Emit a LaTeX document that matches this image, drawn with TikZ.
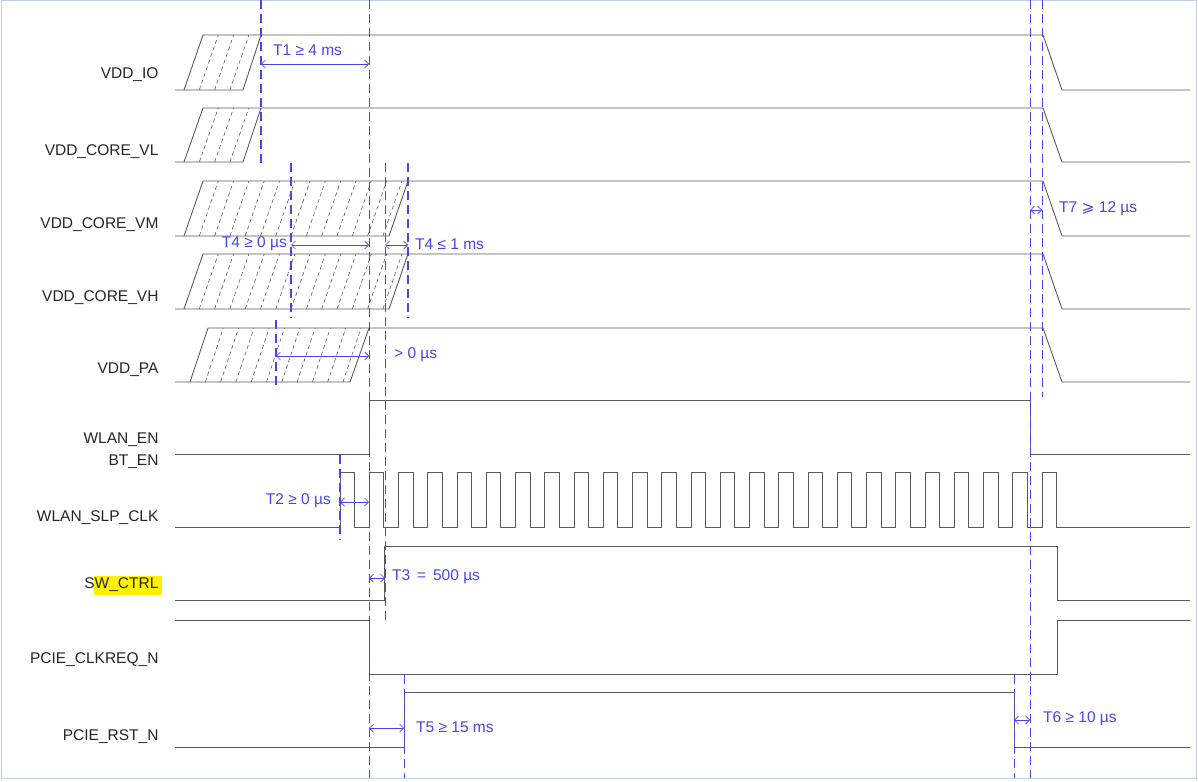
\documentclass[tikz,border=0pt]{standalone}
\usepackage{fontspec}
\setmainfont{Liberation Sans}
\newfontfamily\djv{DejaVu Sans}
\usetikzlibrary{arrows.meta}
\definecolor{wave}{RGB}{90,90,90}
\definecolor{tblue}{RGB}{70,70,235}
\definecolor{frm}{RGB}{190,205,235}
\tikzset{
  wv/.style={draw=wave,line width=0.9pt},
  hatch/.style={draw=wave,line width=0.6pt,dash pattern=on 4pt off 3pt},
  guide/.style={draw=tblue,line width=1.2pt,dash pattern=on 9pt off 5pt},
  dim/.style={draw=tblue,line width=0.7pt,{Straight Barb[length=4pt]}-{Straight Barb[length=4pt]}},
  sig/.style={anchor=east,font=\fontsize{15.5}{18}\selectfont,text=black!85},
  lab/.style={font=\fontsize{15.5}{18}\selectfont,text=tblue,inner sep=1pt}
}
\begin{document}
\begin{tikzpicture}[x=1pt,y=-1pt]
\useasboundingbox (0,0) rectangle (1198,781);
\draw[frm,line width=1pt] (1,1) rectangle (1196,778);
% highlight behind SW_CTRL
\fill[yellow] (94,576) rectangle (162,595);
% signal names
\node[sig] (n1) at (162,75) {VDD\_IO};
\node[sig] (n2) at (162,152) {VDD\_CORE\_VL};
\node[sig] (n3) at (162,225) {VDD\_CORE\_VM};
\node[sig] (n4) at (162,298) {VDD\_CORE\_VH};
\node[sig] (n5) at (162,370) {VDD\_PA};
\node[sig] (n6) at (162,440) {WLAN\_EN};
\node[sig] (n7) at (162,462) {BT\_EN};
\node[sig] (n8) at (162,518) {WLAN\_SLP\_CLK};
\node[sig] (n9) at (162,585) {SW\_CTRL};
\node[sig] (n10) at (162,660) {PCIE\_CLKREQ\_N};
\node[sig] (n11) at (162,737) {PCIE\_RST\_N};
% power rails
\foreach \hy/\ly/\bl/\br/\tl/\tr in {35/90/184/243/203/261, 108/162/184/243/203/261, 181/236/184/389/203/408, 254/309/184/389/203/408, 328/382/190/350/208/369}{
  \draw[wv] (175,\ly) -- (\bl,\ly) -- (\tl,\hy) -- (1043,\hy) -- (1062,\ly) -- (1190,\ly);
  \draw[wv] (\bl,\ly) -- (\br,\ly) -- (\tr,\hy);
  \pgfmathsetmacro{\n}{floor((\br-\bl-4)/15.3)}
  \foreach \k in {1,...,\n}{
    \draw[hatch] ({\bl+\k*15.3},\ly) -- ({\tl+\k*15.3},\hy);
  }
}
% WLAN_EN
\draw[wv] (175,454) -- (369,454) -- (369,400) -- (1030,400) -- (1030,454) -- (1190,454);
% clock
\draw[wv] (175,527) -- (340,527)
  \foreach \k in {0,...,24}{ -- ({340+\k*29.25},527) -- ({340+\k*29.25},472) -- ({354.6+\k*29.25},472) -- ({354.6+\k*29.25},527) }
  -- (1190,527);
% SW_CTRL
\draw[wv] (175,600) -- (384,600) -- (384,546) -- (1057,546) -- (1057,600) -- (1190,600);
% PCIE_CLKREQ_N
\draw[wv] (175,620) -- (369,620) -- (369,674) -- (1057,674) -- (1057,620) -- (1190,620);
% PCIE_RST_N
\draw[wv] (175,747) -- (404,747) -- (404,692) -- (1014,692) -- (1014,747) -- (1190,747);
% guides
\draw[guide] (261,0) -- (261,165);
\draw[guide] (369.5,0) -- (369.5,778);
\draw[guide] (291,163) -- (291,318);
\draw[guide] (385.5,163) -- (385.5,620);
\draw[guide] (408,163) -- (408,318);
\draw[guide] (276,320) -- (276,390);
\draw[guide] (340,455) -- (340,540);
\draw[guide] (404.5,675) -- (404.5,778);
\draw[guide] (1014.5,675) -- (1014.5,778);
\draw[guide] (1030.5,0) -- (1030.5,778);
\draw[guide] (1042.5,0) -- (1042.5,397);
% dimensions
\draw[dim] (261,64) -- (369,64);
\node[lab,anchor=west] (t1) at (272,50) {T1 ≥ 4 ms};
\draw[dim] (291,245) -- (369,245);
\node[lab,anchor=east] (t4a) at (288,244) {T4 ≥ 0 µs};
\draw[dim] (385,245) -- (408,245);
\node[lab,anchor=west] (t4b) at (414,244) {T4 ≤ 1 ms};
\draw[dim] (276,356) -- (369,356);
\node[lab,anchor=west] (tpa) at (393,355) {> 0 µs};
\draw[dim] (340,502) -- (369,502);
\node[lab,anchor=east] (t2) at (332,501) {T2 ≥ 0 µs};
\draw[dim] (369,578) -- (385,578);
\node[lab,anchor=west] (t3) at (391,577) {T3 \,=\, 500 µs};
\draw[dim] (369,728) -- (404,728);
\node[lab,anchor=west] (t5) at (415,727) {T5 ≥ 15 ms};
\draw[dim] (1014,720) -- (1030,720);
\node[lab,anchor=west] (t6) at (1042,719) {T6 ≥ 10 µs};
\draw[dim] (1030,210) -- (1042,210);
\node[lab,anchor=west] (t7) at (1058,209) {T7 {\djv ⩾} 12 µs};
\end{tikzpicture}
\end{document}
